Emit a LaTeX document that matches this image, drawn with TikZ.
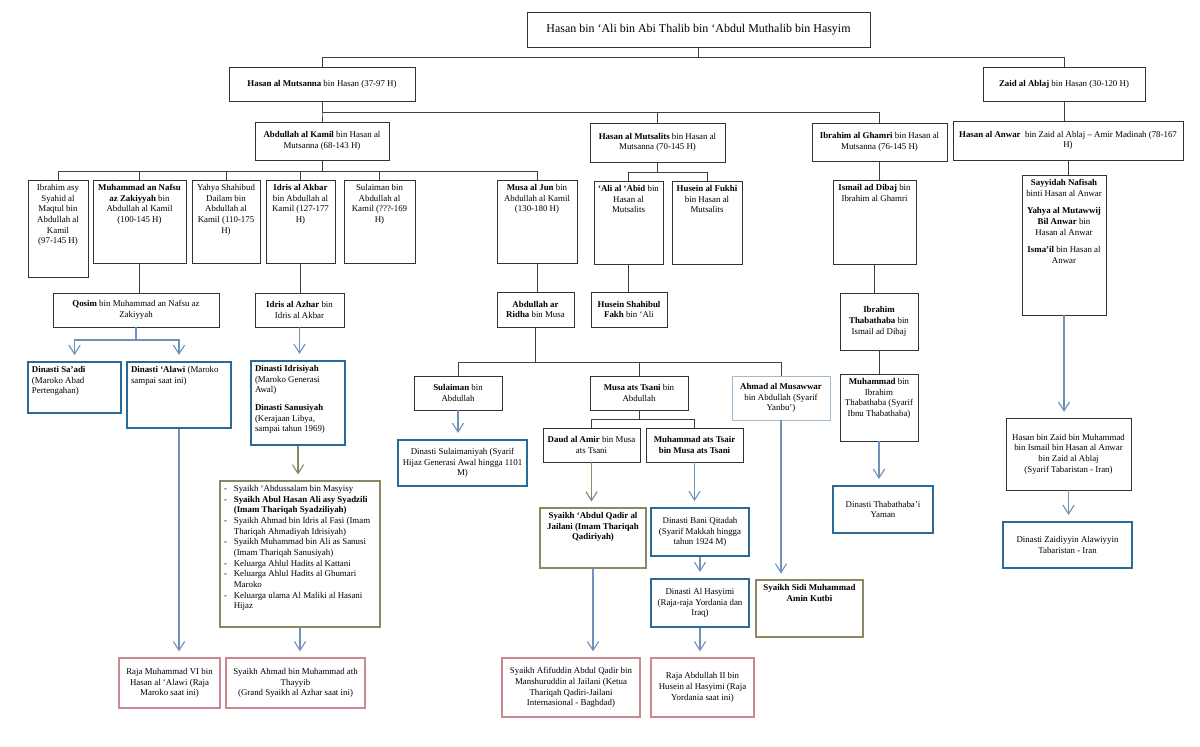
\documentclass[tikz,border=0pt]{standalone}
\usepackage{fontspec}
\setmainfont{Liberation Serif}
\usetikzlibrary{arrows.meta}
\definecolor{dblue}{HTML}{2A6A98}
\definecolor{ablue}{HTML}{6F93B8}
\definecolor{lblue}{HTML}{9EBBD2}
\definecolor{olivb}{HTML}{8E8763}
\definecolor{pinkb}{HTML}{C98A8F}
% box: name, x1, y1, x2, y2, style, t/c, text
\newcommand\bx[8]{%
	\pgfmathsetmacro\bw{(#4-#2)*0.025}\pgfmathsetmacro\bh{(#5-#3)*0.025}\pgfmathsetmacro\tw{(#4-#2-8)*0.025}%
	\node[#6] (#1) at ({(#2+#4)/2},{(#3+#5)/2})
		{\parbox[c][\bh cm][#7]{\bw cm}{\if t#7\vspace{3pt}\fi\centering\parbox{\tw cm}{\centering #8}}};}
\newcommand\itm[1]{\par\hangindent=7pt\hangafter=1\makebox[7pt][l]{-}#1}
\begin{document}
\begin{tikzpicture}[x=0.025cm,y=-0.025cm,font=\fontsize{6.3}{7.6}\selectfont]
	\tikzstyle{b-node}=[draw=black!80,line width=0.7pt,inner sep=0pt]
	\tikzstyle{d-node}=[draw=dblue,line width=2pt,inner sep=0pt]
	\tikzstyle{s-node}=[draw=olivb,line width=1.2pt,inner sep=0pt]
	\tikzstyle{r-node}=[draw=pinkb,line width=1.4pt,inner sep=0pt]
	\tikzstyle{l-node}=[draw=lblue,line width=0.7pt,inner sep=0pt]
	\tikzstyle{tline}=[black!75,line width=0.7pt]
	\tikzstyle{barrow}=[ablue,line width=0.8pt,-{Straight Barb[length=2.2mm,width=2.8mm]},shorten >=4pt]
	\tikzstyle{oarrow}=[barrow,olivb]
	\useasboundingbox (0,0) rectangle (1200,747);

	% top
	\bx{top}{527}{12}{870}{47}{b-node}{c}{\fontsize{8.5}{10}\selectfont Hasan bin ‘Ali bin Abi Thalib bin ‘Abdul Muthalib bin Hasyim}
	\bx{mutsanna}{229}{67}{415}{101}{b-node}{c}{\textbf{Hasan al Mutsanna} bin Hasan (37-97 H)}
	\bx{zaid}{983}{67}{1145}{101}{b-node}{c}{\textbf{Zaid al Ablaj} bin Hasan (30-120 H)}

	% second generation
	\bx{kamil}{255}{122}{389}{160}{b-node}{c}{\textbf{Abdullah al Kamil} bin Hasan al Mutsanna (68-143 H)}
	\bx{mutsalits}{590}{123}{725}{162}{b-node}{c}{\textbf{Hasan al Mutsalits} bin Hasan al Mutsanna (70-145 H)}
	\bx{ghamri}{812}{123}{947}{161}{b-node}{c}{\textbf{Ibrahim al Ghamri} bin Hasan al Mutsanna (76-145 H)}
	\bx{anwar}{953}{121}{1183}{160}{b-node}{c}{\textbf{Hasan al Anwar}\ \ bin Zaid al Ablaj – Amir Madinah (78-167 H)}

	% third generation
	\bx{syahid}{28}{180}{88}{277}{b-node}{t}{Ibrahim asy Syahid al Maqtul bin Abdullah al Kamil (97-145 H)}
	\bx{nafsu}{93}{180}{186}{263}{b-node}{t}{\textbf{Muhammad an Nafsu az Zakiyyah} bin Abdullah al Kamil (100-145 H)}
	\bx{yahya}{192}{180}{260}{263}{b-node}{t}{Yahya Shahibud Dailam bin Abdullah al Kamil (110-175 H)}
	\bx{akbar}{266}{180}{335}{263}{b-node}{t}{\textbf{Idris al Akbar} bin Abdullah al Kamil (127-177 H)}
	\bx{sulaiman}{344}{180}{415}{263}{b-node}{t}{Sulaiman bin Abdullah al Kamil (???-169 H)}
	\bx{jun}{497}{180}{577}{263}{b-node}{t}{\textbf{Musa al Jun} bin Abdullah al Kamil (130-180 H)}
	\bx{abid}{594}{181}{663}{264}{b-node}{t}{\textbf{‘Ali al ‘Abid} bin Hasan al Mutsalits}
	\bx{fukhi}{672}{181}{742}{264}{b-node}{t}{\textbf{Husein al Fukhi} bin Hasan al Mutsalits}
	\bx{dibaj}{833}{180}{916}{264}{b-node}{t}{\textbf{Ismail ad Dibaj} bin Ibrahim al Ghamri}
	\bx{nafisah}{1022}{175}{1106}{315}{b-node}{t}{\textbf{Sayyidah Nafisah} binti Hasan al Anwar\\[5pt]
		\textbf{Yahya al Mutawwij Bil Anwar} bin Hasan al Anwar\\[5pt]\textbf{Isma’il} bin Hasan al Anwar}

	% fourth generation
	\bx{qosim}{53}{293}{219}{327}{b-node}{c}{\textbf{Qosim} bin Muhammad an Nafsu az Zakiyyah}
	\bx{azhar}{255}{293}{344}{327}{b-node}{c}{\textbf{Idris al Azhar} bin Idris al Akbar}
	\bx{ridha}{497}{292}{574}{327}{b-node}{c}{\textbf{Abdullah ar Ridha} bin Musa}
	\bx{fakh}{591}{292}{667}{327}{b-node}{c}{\textbf{Husein Shahibul Fakh} bin ‘Ali}
	\bx{thaba}{840}{293}{918}{350}{b-node}{c}{\textbf{Ibrahim Thabathaba} bin Ismail ad Dibaj}
	\bx{ibnu}{840}{374}{918}{441}{b-node}{t}{\textbf{Muhammad} bin Ibrahim Thabathaba (Syarif Ibnu Thabathaba)}
	\bx{yaman}{833}{486}{933}{533}{d-node}{c}{Dinasti Thabathaba’i Yaman}

	% Musa al Jun line
	\bx{sulaimanb}{414}{376}{502}{410}{b-node}{c}{\textbf{Sulaiman} bin Abdullah}
	\bx{tsani}{590}{376}{688}{410}{b-node}{c}{\textbf{Musa ats Tsani} bin Abdullah}
	\bx{musawwar}{732}{376}{830}{420}{l-node}{c}{\textbf{Ahmad al Musawwar} bin Abdullah (Syarif Yanbu’)}
	\bx{sulaimaniyah}{398}{440}{527}{486}{d-node}{c}{Dinasti Sulaimaniyah (Syarif Hijaz Generasi Awal hingga 1101 M)}
	\bx{daud}{543}{428}{640}{462}{b-node}{c}{\textbf{Daud al Amir} bin Musa ats Tsani}
	\bx{tsair}{646}{428}{743}{462}{b-node}{c}{\textbf{Muhammad ats Tsair bin Musa ats Tsani}}
	\bx{qadir}{540}{508}{646}{568}{s-node}{t}{\textbf{Syaikh ‘Abdul Qadir al Jailani (Imam Thariqah Qadiriyah)}}
	\bx{qitadah}{651}{508}{749}{556}{d-node}{c}{Dinasti Bani Qitadah (Syarif Makkah hingga tahun 1924 M)}
	\bx{hasyimi}{651}{579}{749}{627}{d-node}{c}{Dinasti Al Hasyimi (Raja-raja Yordania dan Iraq)}
	\bx{kutbi}{756}{580}{863}{637}{s-node}{t}{\textbf{Syaikh Sidi Muhammad Amin Kutbi}}
	\bx{afifuddin}{502}{658}{640}{717}{r-node}{c}{Syaikh Afifuddin Abdul Qadir bin Manshuruddin al Jailani (Ketua Thariqah Qadiri-Jailani Internasional - Baghdad)}
	\bx{abdullah}{651}{658}{754}{717}{r-node}{c}{Raja Abdullah II bin Husein al Hasyimi (Raja Yordania saat ini)}

	% Maghrib line
	\bx{saadi}{28}{362}{121}{413}{d-node}{t}{\raggedright\textbf{Dinasti Sa’adi} (Maroko Abad Pertengahan)}
	\bx{alawi}{127}{362}{231}{428}{d-node}{t}{\raggedright\textbf{Dinasti ‘Alawi} (Maroko sampai saat ini)}
	\bx{idrisiyah}{251}{361}{345}{445}{d-node}{t}{\raggedright\textbf{Dinasti Idrisiyah} (Maroko Generasi Awal)\\[5pt]
		\textbf{Dinasti Sanusiyah} (Kerajaan Libya, sampai tahun 1969)}
	\bx{tariqah}{220}{481}{380}{627}{s-node}{t}{\raggedright\itm{Syaikh ‘Abdussalam bin Masyisy}
		\itm{\textbf{Syaikh Abul Hasan Ali asy Syadzili (Imam Thariqah Syadziliyah)}}
		\itm{Syaikh Ahmad bin Idris al Fasi (Imam Thariqah Ahmadiyah Idrisiyah)}
		\itm{Syaikh Muhammad bin Ali as Sanusi (Imam Thariqah Sanusiyah)}
		\itm{Keluarga Ahlul Hadits al Kattani}
		\itm{Keluarga Ahlul Hadits al Ghumari Maroko}
		\itm{Keluarga ulama Al Maliki al Hasani Hijaz}}
	\bx{raja}{119}{658}{220}{708}{r-node}{c}{Raja Muhammad VI bin Hasan al ‘Alawi (Raja Maroko saat ini)}
	\bx{thayyib}{226}{658}{365}{708}{r-node}{c}{Syaikh Ahmad bin Muhammad ath Thayyib\\(Grand Syaikh al Azhar saat ini)}

	% Zaid line
	\bx{tabaristan}{1006}{418}{1131}{490}{b-node}{c}{Hasan bin Zaid bin Muhammad bin Ismail bin Hasan al Anwar bin Zaid al Ablaj\\(Syarif Tabaristan - Iran)}
	\bx{zaidiyyin}{1003}{522}{1132}{568}{d-node}{c}{Dinasti Zaidiyyin Alawiyyin Tabaristan - Iran}

	% tree lines
	\draw[tline] (top.south) -- (top.south |- 0,57) -| (mutsanna.north);
	\draw[tline] (top.south) -- (top.south |- 0,57) -| (zaid.north);
	\draw[tline] (mutsanna.south) -- (mutsanna.south |- 0,112) -| (kamil.north);
	\draw[tline] (mutsanna.south) -- (mutsanna.south |- 0,112) -| (mutsalits.north);
	\draw[tline] (mutsanna.south) -- (mutsanna.south |- 0,112) -| (ghamri.north);
	\draw[tline] (zaid.south) -- (zaid.south |- anwar.north);
	\foreach \c in {syahid,nafsu,yahya,akbar,sulaiman,jun}
		\draw[tline] (kamil.south) -- (kamil.south |- 0,171) -| (\c.north);
	\draw[tline] (mutsalits.south) -- (mutsalits.south |- 0,172) -| (abid.north);
	\draw[tline] (mutsalits.south) -- (mutsalits.south |- 0,172) -| (fukhi.north);
	\draw[tline] (ghamri.south) -- (ghamri.south |- dibaj.north);
	\draw[tline] (anwar.south) -- (anwar.south |- nafisah.north);
	\draw[tline] (nafsu.south) -- (nafsu.south |- qosim.north);
	\draw[tline] (akbar.south) -- (akbar.south |- azhar.north);
	\draw[tline] (jun.south) -- (jun.south |- ridha.north);
	\draw[tline] (abid.south) -- (abid.south |- fakh.north);
	\draw[tline] (dibaj.south) -- (dibaj.south |- thaba.north);
	\draw[tline] (thaba.south) -- (thaba.south |- ibnu.north);
	\foreach \c in {sulaimanb,tsani,musawwar}
		\draw[tline] (ridha.south) -- (ridha.south |- 0,362) -| (\c.north);
	\draw[tline] (tsani.south) -- (tsani.south |- 0,419) -| (daud.north);
	\draw[tline] (tsani.south) -- (tsani.south |- 0,419) -| (tsair.north);

	% arrows
	\draw[barrow] (qosim.south) -- (qosim.south |- 0,340) -| (saadi.north);
	\draw[barrow] (qosim.south) -- (qosim.south |- 0,340) -| (alawi.north);
	\draw[barrow] (azhar.south) -- (azhar.south |- idrisiyah.north);
	\draw[oarrow] (idrisiyah.south) -- (idrisiyah.south |- tariqah.north);
	\draw[barrow] (tariqah.south) -- (tariqah.south |- thayyib.north);
	\draw[barrow] (alawi.south) -- (alawi.south |- raja.north);
	\draw[barrow] (ibnu.south) -- (ibnu.south |- yaman.north);
	\draw[barrow] (sulaimanb.south) -- (sulaimanb.south |- sulaimaniyah.north);
	\draw[oarrow] (daud.south) -- (daud.south |- qadir.north);
	\draw[barrow] (tsair.south) -- (tsair.south |- qitadah.north);
	\draw[barrow] (qitadah.south) -- (qitadah.south |- hasyimi.north);
	\draw[barrow] (hasyimi.south) -- (hasyimi.south |- abdullah.north);
	\draw[barrow] (qadir.south) -- (qadir.south |- afifuddin.north);
	\draw[barrow] (musawwar.south) -- (musawwar.south |- kutbi.north);
	\draw[barrow] (nafisah.south) -- (nafisah.south |- tabaristan.north);
	\draw[barrow] (tabaristan.south) -- (tabaristan.south |- zaidiyyin.north);
\end{tikzpicture}
\end{document}
